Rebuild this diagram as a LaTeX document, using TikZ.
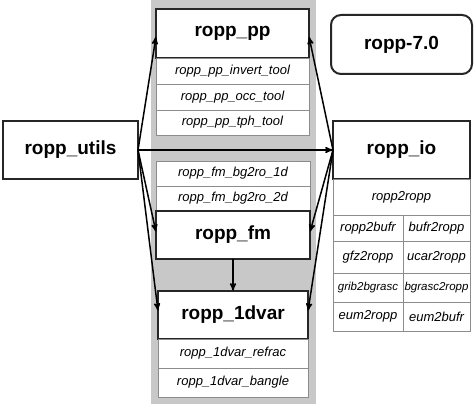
\documentclass[tikz,border=0pt]{standalone}
\usepackage{fontspec}
\setmainfont{Liberation Sans}
\usepackage{tikz}
\usetikzlibrary{positioning,arrows}
\definecolor{panelgray}{RGB}{200,200,200}

\begin{document}
\begin{tikzpicture}[>=stealth',x=1pt,y=-1pt,
		head/.style={draw=black!85,line width=1.6pt,fill=white,inner sep=0pt,outer sep=0pt,
			font=\bfseries\fontsize{19}{22}\selectfont},
		item/.style={draw=black!45,line width=0.6pt,fill=white,inner sep=0pt,outer sep=0pt,
			font=\itshape\fontsize{13}{15}\selectfont},
		link/.style={->,line width=1.5pt,shorten >=0.5pt}]
			\useasboundingbox (0,0) rectangle (474,404);
			\fill[panelgray] (151,0) rectangle (316,404);

			% left and right
			\node[head,minimum width=135pt,minimum height=58pt] (utils) at (70.5,150) {ropp\_utils};
			\node[head,minimum width=141pt,minimum height=59pt,rounded corners=10pt,line width=2pt] (version) at (401.5,44.5) {ropp-7.0};
			\node[head,minimum width=137pt,minimum height=58pt] (io) at (401.5,150) {ropp\_io};
			\node[item,minimum width=137pt,minimum height=36pt,below=0pt of io] (r2r) {ropp2ropp};
			\node[item,minimum width=70pt,minimum height=26pt,anchor=north west] (r2b) at (r2r.south west) {ropp2bufr};
			\node[item,minimum width=67pt,minimum height=26pt,right=0pt of r2b] (b2r) {bufr2ropp};
			\node[item,minimum width=70pt,minimum height=32pt,below=0pt of r2b] (g2r) {gfz2ropp};
			\node[item,minimum width=67pt,minimum height=32pt,right=0pt of g2r] (u2r) {ucar2ropp};
			\node[item,minimum width=70pt,minimum height=29pt,below=0pt of g2r,font=\itshape\fontsize{11.5}{13}\selectfont] (g2b) {grib2bgrasc};
			\node[item,minimum width=67pt,minimum height=29pt,right=0pt of g2b,font=\itshape\fontsize{11.5}{13}\selectfont] (b2ro) {bgrasc2ropp};
			\node[item,minimum width=70pt,minimum height=29pt,below=0pt of g2b] (e2r) {eum2ropp};
			\node[item,minimum width=67pt,minimum height=29pt,right=0pt of e2r] (e2b) {eum2bufr};

			% middle column
			\node[head,minimum width=153pt,minimum height=49pt] (pp) at (232.5,33.5) {ropp\_pp};
			\node[item,minimum width=153pt,minimum height=26pt,below=0pt of pp] (ppinv) {ropp\_pp\_invert\_tool};
			\node[item,minimum width=153pt,minimum height=26pt,below=0pt of ppinv] (ppocc) {ropp\_pp\_occ\_tool};
			\node[item,minimum width=153pt,minimum height=25pt,below=0pt of ppocc] (pptph) {ropp\_pp\_tph\_tool};

			\node[item,minimum width=154pt,minimum height=25pt] (fmone) at (233,173.5) {ropp\_fm\_bg2ro\_1d};
			\node[item,minimum width=154pt,minimum height=25pt,below=0pt of fmone] (fmtwo) {ropp\_fm\_bg2ro\_2d};
			\node[head,minimum width=154pt,minimum height=48pt,below=0pt of fmtwo] (fm) {ropp\_fm};

			\node[head,minimum width=150pt,minimum height=48pt] (var) at (233,315) {ropp\_1dvar};
			\node[item,minimum width=150pt,minimum height=29pt,below=0pt of var] (varref) {ropp\_1dvar\_refrac};
			\node[item,minimum width=150pt,minimum height=29pt,below=0pt of varref] (varbang) {ropp\_1dvar\_bangle};

			\path 	(utils.east) edge[link] ([yshift=-3pt]pp.west)
					(utils.east) edge[link] (io.west)
					(utils.east) edge[link] ([yshift=3pt]fm.west)
					(utils.east) edge[link] ([yshift=4pt]var.west)
					(io.west) edge[link] ([yshift=-3pt]pp.east)
					(io.west) edge[link] ([yshift=3pt]fm.east)
					(io.west) edge[link] ([yshift=4pt]var.east)
					(fm.south) edge[link] (var.north);
			\end{tikzpicture}
\end{document}
